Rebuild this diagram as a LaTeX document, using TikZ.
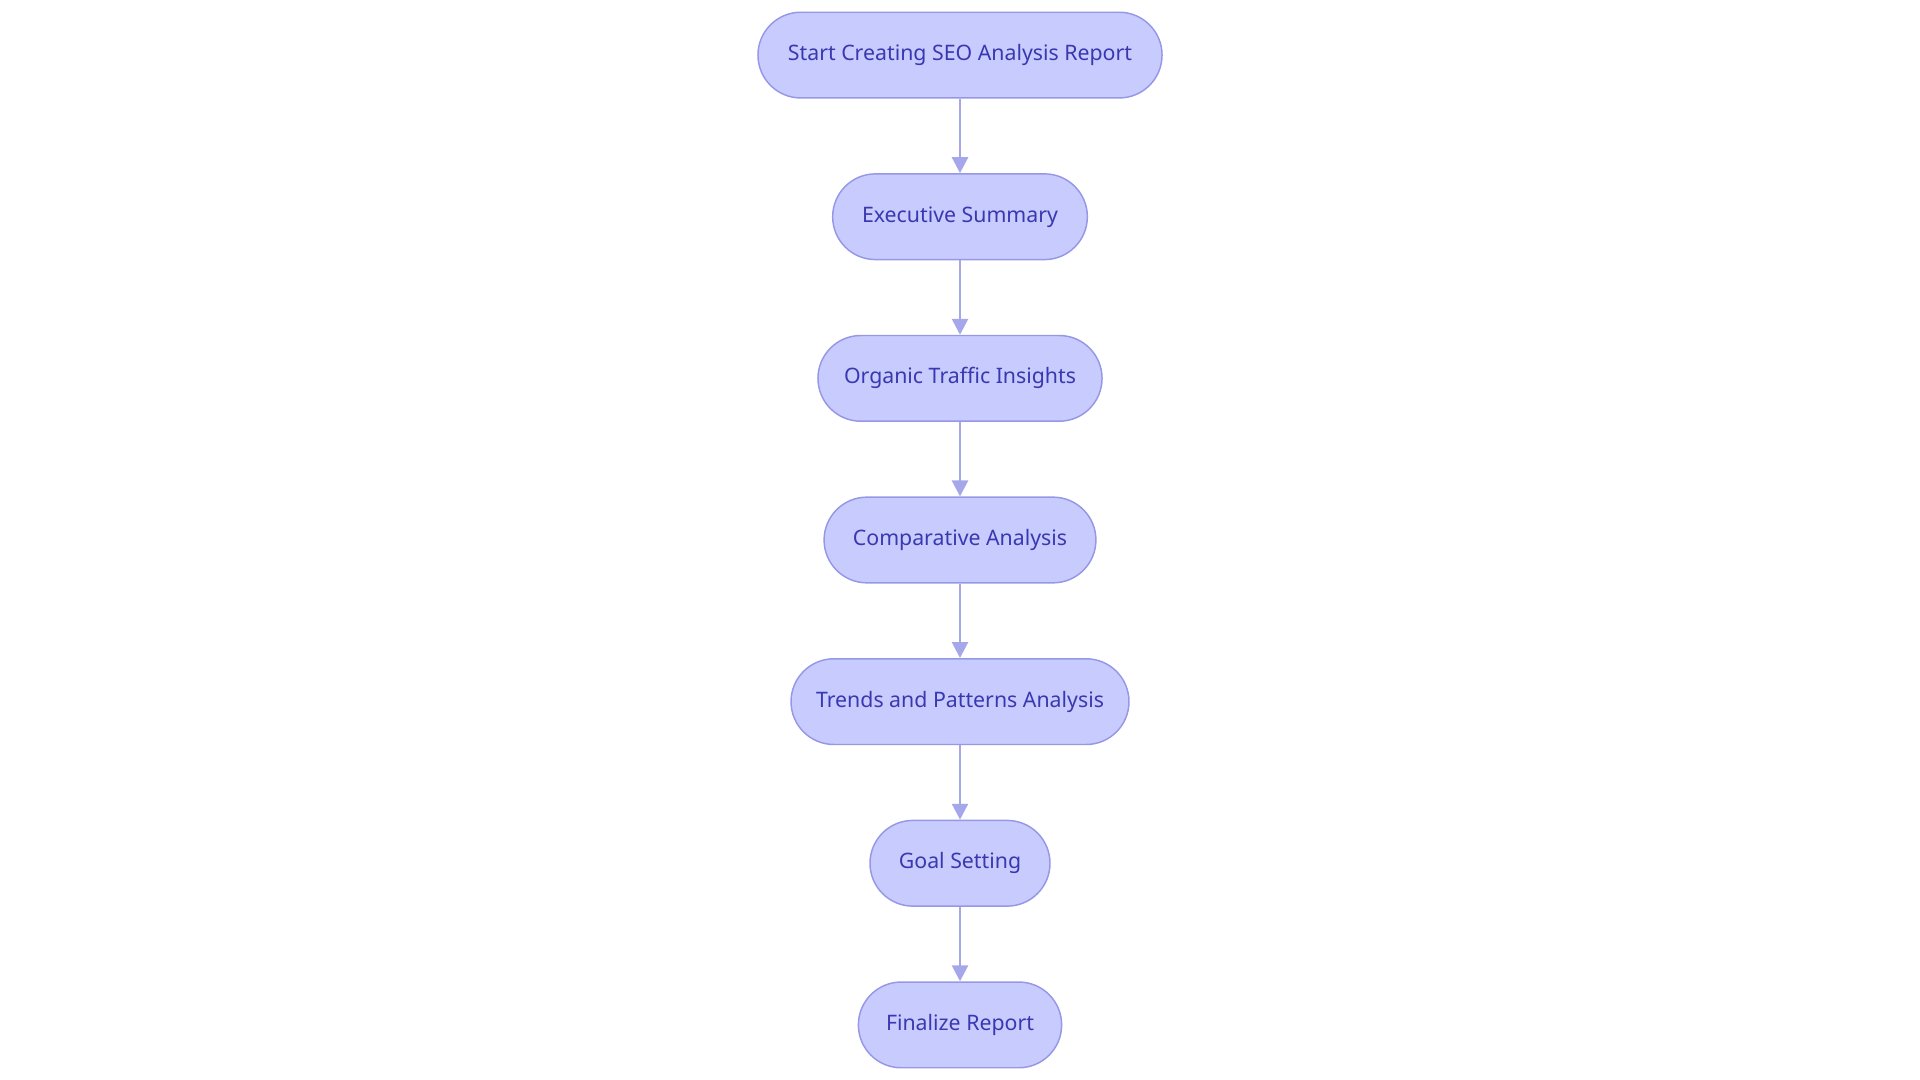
\documentclass[tikz,border=0pt]{standalone}
\usepackage{fontspec}
\setmainfont{Noto Sans}
\usetikzlibrary{arrows.meta}
\definecolor{boxfill}{RGB}{200,203,254}
\definecolor{boxline}{RGB}{150,152,230}
\definecolor{boxtext}{RGB}{58,56,176}
\tikzset{every picture/.style={line width=0.6pt}}
\tikzset{stagebox/.style={draw=boxline,fill=boxfill,rounded corners=17.5pt,minimum height=35pt,inner xsep=0pt,font=\fontsize{8.7}{10.5}\selectfont,text=boxtext}}
\tikzset{flowarrow/.style={draw=boxline!85!white,line width=1.1pt,-{Triangle[length=6.5pt,width=6.5pt]}}}
\begin{document}
\begin{tikzpicture}[x=0.5pt,y=0.5pt,yscale=-1,xscale=1]
\useasboundingbox (0,0) rectangle (1568,882);

% Stages
\node [stagebox,minimum width=165pt] (start) at (784,45) {Start Creating SEO Analysis Report};
\node [stagebox,minimum width=104pt] (exec) at (784,177) {Executive Summary};
\node [stagebox,minimum width=116pt] (organic) at (784,309) {Organic Traffic Insights};
\node [stagebox,minimum width=111pt] (compare) at (784,441) {Comparative Analysis};
\node [stagebox,minimum width=138pt] (trends) at (784,573) {Trends and Patterns Analysis};
\node [stagebox,minimum width=73.5pt] (goal) at (784,705) {Goal Setting};
\node [stagebox,minimum width=83pt] (final) at (784,837) {Finalize Report};

% Connectors
\draw [flowarrow] (start) -- (exec);
\draw [flowarrow] (exec) -- (organic);
\draw [flowarrow] (organic) -- (compare);
\draw [flowarrow] (compare) -- (trends);
\draw [flowarrow] (trends) -- (goal);
\draw [flowarrow] (goal) -- (final);

\end{tikzpicture}
\end{document}
